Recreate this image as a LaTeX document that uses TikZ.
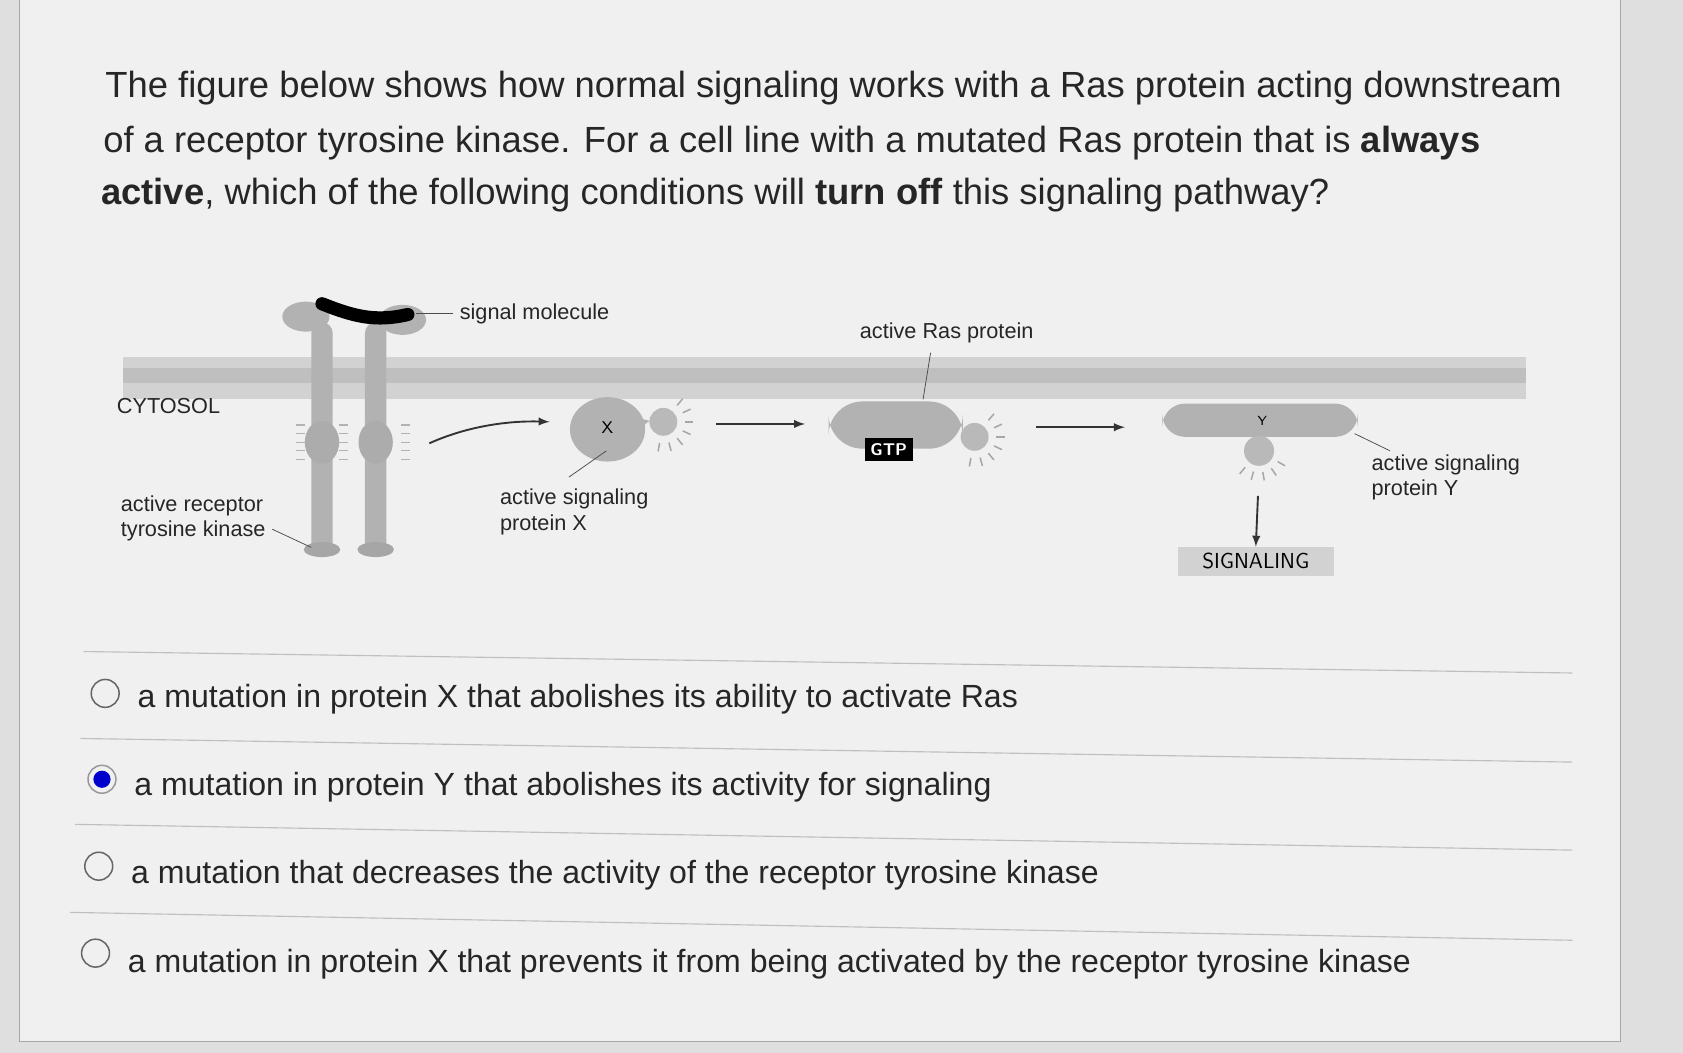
\documentclass[tikz,border=0pt]{standalone}
\usepackage{fontspec}
\setmainfont{Liberation Sans}
\begin{document}
\begin{tikzpicture}[x=0.02cm,y=-0.02cm,
  lab/.style={font=\fontsize{11.5}{13.5}\selectfont,align=left,text=black!85},
  ttl/.style={font=\fontsize{19.3}{28}\selectfont,anchor=west,text=black!85},
  opt/.style={font=\fontsize{17}{20}\selectfont,anchor=west,text=black!85},
  radio/.style={circle,draw=black!60,line width=0.8pt,minimum size=0.52cm,inner sep=0pt},
  arr/.style={-latex,line width=1pt,black!80},
  sep/.style={draw=black!25,line width=0.6pt}]
\useasboundingbox (0,0) rectangle (1568,981);
\fill[gray!25] (0,0) rectangle (1568,981);
\fill[gray!12] (18,0) rectangle (1510,970);
\draw[black!35] (18,0) -- (18,970) -- (1510,970) -- (1510,0);
% title
\node[ttl] (t1) at (92,82) {The figure below shows how normal signaling works with a Ras protein acting downstream};
\node[ttl] (t2) at (90,133) {of a receptor tyrosine kinase. For a cell line with a mutated Ras protein that is \textbf{always}};
\node[ttl] (t3) at (88,182) {\textbf{active}, which of the following conditions will \textbf{turn off} this signaling pathway?};
% membrane
\fill[gray!35] (115,333) rectangle (1422,372);
\fill[gray!50] (115,343) rectangle (1422,357);
% receptors
\foreach \x in {300,350}{
  \fill[gray!60,rounded corners=6pt] (\x-10,300) rectangle (\x+10,516);
  \fill[gray!70] (\x,512) ellipse (17 and 7);
  \fill[gray!65] (\x,412) ellipse (16 and 20);
}
\fill[gray!60] (285,295) ellipse (22 and 14);
\fill[gray!60] (375,298) ellipse (22 and 14);
\draw[line width=7pt,black,line cap=round] (300,283) .. controls (330,295) and (350,300) .. (380,293);
\node[lab] (sig) at (498,292) {signal molecule};
\draw[black!70] (388,292) -- (sig.west);
\node[lab] (cyt) at (157,378) {CYTOSOL};
\node[lab] (rtk) at (180,483) {active receptor\\tyrosine kinase};
\draw[black!70] (rtk.east) ++(0,10) -- (290,510);
% protein X
\draw[arr] (400,413) .. controls (440,395) and (480,392) .. (512,393);
\fill[gray!60] (566,400) ellipse (35 and 30);
\path[fill=gray!60] (548,378) -- (605,392) -- (560,430) -- cycle;
\node (px) at (566,398) {\textsf{\small X}};
\fill[gray!55] (618,393) circle (13);
\node[lab] (lx) at (535,477) {active signaling\\protein X};
\draw[black!70] (lx.north) ++(-5,-5) -- (565,420);
% Ras
\draw[arr] (667,395) -- (750,395);
\fill[gray!60,rounded corners=18pt] (772,374) rectangle (897,418);
\fill[gray!55] (908,407) circle (13);
\node[fill=black,text=white,font=\small\bfseries\sffamily,inner sep=3pt] (gtp) at (828,419) {GTP};
\node[lab] (ras) at (882,310) {active Ras protein};
\draw[black!70] (ras.south) ++(-15,3) -- (860,372);
% Y
\draw[arr] (965,398) -- (1048,398);
\fill[gray!60,rounded corners=12pt] (1083,376) rectangle (1265,407);
\fill[gray!55] (1173,420) circle (14);
\node[font=\scriptsize\sffamily] at (1176,392) {Y};
\node[lab] (ly) at (1347,445) {active signaling\\protein Y};
\draw[black!70] (1262,404) -- (1295,420);
\node[fill=gray!35,font=\fontsize{11.5}{13}\selectfont\sffamily,minimum width=2.9cm,minimum height=0.52cm] (sg) at (1170,523) {SIGNALING};
\draw[arr] (1172,462) -- (sg.north);
% sparkles
\foreach \cx/\cy in {618/393,908/407}{
  \foreach \t in {-50,-25,...,110}{\draw[gray!70,line width=0.8pt] (\cx,\cy) ++(\t:20) -- ++(\t:8);}}
\foreach \t in {30,55,...,150}{\draw[gray!70,line width=0.8pt] (1173,420) ++(\t:20) -- ++(\t:8);}
\foreach \cx in {280,320,378}{
  \foreach \dy in {-16,-8,0,8,16}{\draw[gray!60,line width=0.7pt] (\cx-4,412+\dy) -- (\cx+4,412+\dy);}}
% options
\draw[sep] (78,607) -- (1465,627);
\draw[sep] (75,688) -- (1465,710);
\draw[sep] (70,768) -- (1465,792);
\draw[sep] (65,850) -- (1465,876);
\node[radio] (r1) at (98,646) {};
\node[opt] (o1) at (122,651) {a mutation in protein X that abolishes its ability to activate Ras};
\node[radio,draw=black!40] (r2) at (95,726) {};
\fill[blue!80!black] (r2.center) circle (8);
\node[opt] (o2) at (119,733) {a mutation in protein Y that abolishes its activity for signaling};
\node[radio] (r3) at (92,807) {};
\node[opt] (o3) at (116,815) {a mutation that decreases the activity of the receptor tyrosine kinase};
\node[radio] (r4) at (89,888) {};
\node[opt] (o4) at (113,898) {a mutation in protein X that prevents it from being activated by the receptor tyrosine kinase};
\end{tikzpicture}
\end{document}
